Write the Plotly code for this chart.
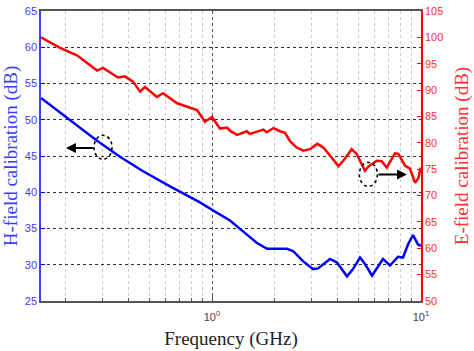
import numpy as np
import plotly.graph_objects as go

# ---------------- data ----------------
# H-field calibration (left axis, dB) vs frequency (GHz)
h_freq = [0.152, 0.2094, 0.282, 0.363, 0.468, 0.630, 0.876, 1.011, 1.219, 1.407,
          1.642, 1.833, 2.046, 2.284, 2.441, 2.725, 3.042, 3.216, 3.669, 3.963,
          4.425, 4.727, 5.107, 5.397, 5.830, 6.160, 6.579, 7.108, 7.762, 8.202,
          8.665, 9.155, 9.674, 10.0]
h_db = [53.0, 49.9, 47.1, 44.9, 42.9, 40.8, 38.6, 37.5, 36.1, 34.6,
        33.0, 32.2, 32.2, 32.2, 31.9, 30.5, 29.4, 29.5, 30.8, 30.3,
        28.4, 29.4, 31.0, 30.1, 28.5, 29.6, 30.8, 29.9, 31.1, 31.0,
        32.8, 34.1, 32.8, 32.6]

# E-field calibration (right axis, dB) vs frequency (GHz)
e_freq = [0.152, 0.1874, 0.226, 0.282, 0.301, 0.355, 0.383, 0.419, 0.453, 0.478,
          0.545, 0.583, 0.681, 0.848, 0.926, 1.0, 1.092, 1.180, 1.219, 1.317,
          1.361, 1.466, 1.520, 1.760, 1.826, 1.966, 2.116, 2.236, 2.362, 2.542,
          2.735, 2.944, 3.191, 3.410, 3.669, 4.023, 4.250, 4.659, 4.922, 5.397,
          5.598, 6.137, 6.484, 6.852, 7.509, 7.788, 8.383, 8.859, 9.361, 9.710,
          9.97]
e_db = [100.0, 98.0, 96.6, 93.7, 94.2, 92.4, 92.6, 91.6, 89.7, 90.6,
        88.7, 89.4, 87.5, 86.2, 84.0, 84.9, 82.7, 82.9, 82.3, 81.5,
        81.7, 82.2, 81.7, 82.5, 82.0, 82.8, 82.2, 81.9, 80.3, 79.1,
        78.5, 78.8, 79.8, 79.1, 77.6, 75.6, 76.6, 78.8, 77.9, 74.7,
        75.5, 76.6, 76.5, 75.3, 78.0, 77.9, 75.7, 75.1, 72.4, 73.3,
        75.3]

x_major = [1, 10]
x_major_text = ["10<sup>0</sup>", "10<sup>1</sup>"]
x_minor = [0.2, 0.3, 0.4, 0.5, 0.6, 0.7, 0.8, 0.9, 2, 3, 4, 5, 6, 7, 8, 9]
x_min, x_max = 0.152, 10.0

# annotation markers: (freq GHz, value dB)
h_mark = (0.301, 46.2)
e_mark = (5.6, 74.0)
h_arrow_head = (0.2, 46.1)
e_arrow_head = (8.57, 74.0)

BLUE = "#0000ff"
RED = "#ff0000"
TICK_BLUE = "#3c3cff"
TICK_RED = "#ff3030"
SERIF = "Liberation Serif, Times New Roman, serif"
SANS = "Liberation Sans, Arial, sans-serif"

fig = go.Figure()
fig.add_trace(go.Scatter(x=h_freq, y=h_db, mode="lines",
                         line=dict(color=BLUE, width=2.5), yaxis="y",
                         name="H-field", showlegend=False))
fig.add_trace(go.Scatter(x=e_freq, y=e_db, mode="lines",
                         line=dict(color=RED, width=2.5), yaxis="y2",
                         name="E-field", showlegend=False))

lx0, lx1 = np.log10(x_min), np.log10(x_max)


def dom(f):
    return (np.log10(f) - lx0) / (lx1 - lx0)


shapes = []
for (f, v), yr in ((h_mark, "y"), (e_mark, "y2")):
    shapes.append(dict(type="circle", xref="x domain", yref=yr,
                       xsizemode="pixel", ysizemode="pixel",
                       xanchor=dom(f), yanchor=v,
                       x0=-9, x1=9, y0=-12, y1=12,
                       line=dict(color="black", width=1.6, dash="dot")))

annotations = [
    dict(x=np.log10(h_arrow_head[0]), y=h_arrow_head[1], xref="x", yref="y",
         ax=29, ay=0, text="", showarrow=True, arrowhead=2, arrowsize=1,
         arrowwidth=2, arrowcolor="black"),
    dict(x=np.log10(e_arrow_head[0]), y=e_arrow_head[1], xref="x", yref="y2",
         ax=-30, ay=0, text="", showarrow=True, arrowhead=2, arrowsize=1,
         arrowwidth=2, arrowcolor="black"),
]

fig.update_layout(
    width=474, height=351,
    margin=dict(l=41, r=53, t=5, b=48),
    paper_bgcolor="white", plot_bgcolor="white",
    shapes=shapes, annotations=annotations,
    xaxis=dict(
        type="log", range=[lx0, lx1],
        tickvals=x_major, ticktext=x_major_text,
        tickfont=dict(family=SANS, size=11, color="#444"),
        ticks="inside", ticklen=5, tickcolor="#555",
        ticklabelstandoff=5,
        showline=True, linecolor="#555", linewidth=1.5, mirror=True,
        showgrid=True, gridcolor="#555", griddash="dot", gridwidth=1,
        zeroline=False,
        minor=dict(tickvals=x_minor, ticks="inside", ticklen=3, tickcolor="#555",
                   showgrid=True, gridcolor="#c8c8c8", griddash="dot", gridwidth=1),
        title=dict(text="Frequency (GHz)", font=dict(family=SERIF, size=19, color="#222"),
                   standoff=10),
    ),
    yaxis=dict(
        range=[25, 65], dtick=5, tick0=25,
        tickfont=dict(family=SANS, size=11, color=TICK_BLUE),
        ticks="inside", ticklen=4, tickcolor=BLUE,
        showline=True, linecolor="#4040ff", linewidth=1.5,
        showgrid=True, gridcolor="#333", griddash="dot", gridwidth=1,
        zeroline=False,
        title=dict(text="H-field calibration (dB)",
                   font=dict(family=SERIF, size=19, color=TICK_BLUE), standoff=4),
    ),
    yaxis2=dict(
        overlaying="y", side="right", anchor="x",
        range=[50, 105], dtick=5, tick0=50,
        tickfont=dict(family=SANS, size=11, color=TICK_RED),
        ticks="inside", ticklen=4, tickcolor=RED,
        showline=True, linecolor=RED, linewidth=1.5,
        showgrid=False, zeroline=False,
        title=dict(text="E-field calibration (dB)",
                   font=dict(family=SERIF, size=19, color=TICK_RED), standoff=12),
    ),
)

fig.write_html("out.html")
